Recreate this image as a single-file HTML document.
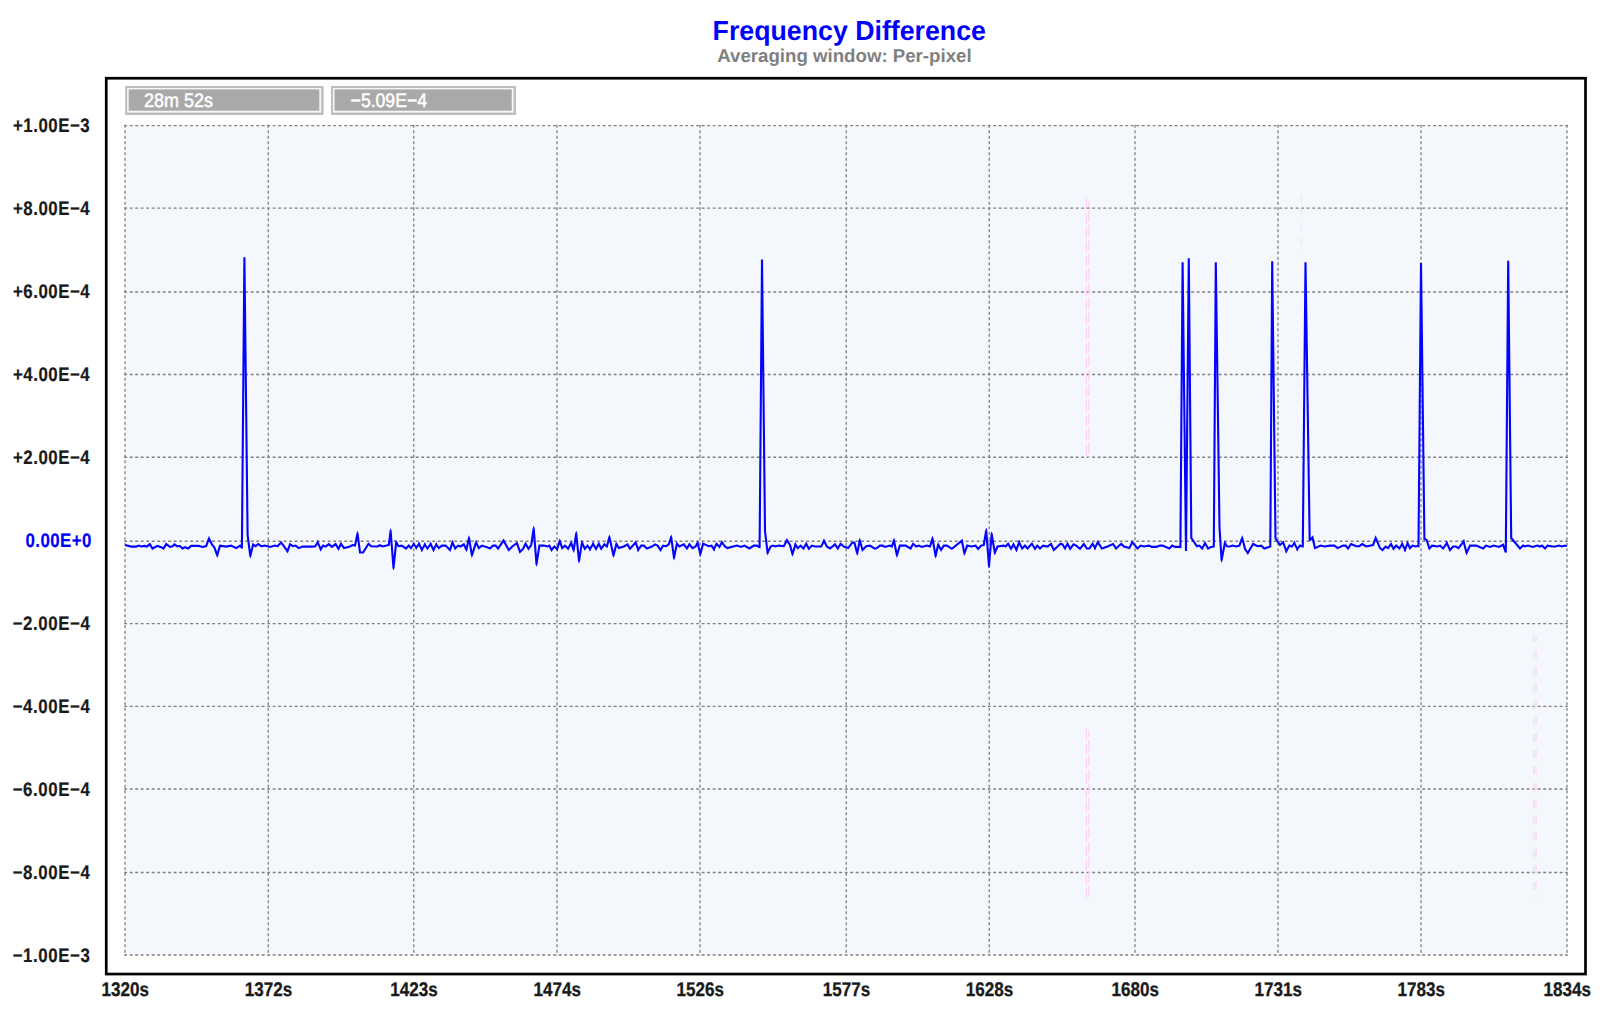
<!DOCTYPE html>
<html><head><meta charset="utf-8"><title>Frequency Difference</title>
<style>
html,body{margin:0;padding:0;background:#fff;}
body{width:1600px;height:1021px;overflow:hidden;}
svg{display:block;}
text{font-family:"Liberation Sans",sans-serif;text-rendering:geometricPrecision;}
.t{font-weight:bold;font-size:27.5px;fill:#0000fa;}
.st{font-weight:bold;font-size:18.5px;fill:#808080;}
.yl{font-size:19.7px;font-weight:bold;fill:#1a1a1a;stroke:#1a1a1a;stroke-width:0.2px;}
.xl{font-size:19.7px;font-weight:bold;fill:#1a1a1a;stroke:#1a1a1a;stroke-width:0.3px;}
.bx{font-size:19.5px;fill:#fff;stroke:#fff;stroke-width:0.5px;}
.g{stroke:#808080;stroke-width:1.3;stroke-dasharray:2.9 2.6;fill:none;}
</style></head><body>
<svg width="1600" height="1021" viewBox="0 0 1600 1021">
<rect x="0" y="0" width="1600" height="1021" fill="#fff"/>
<text class="t" transform="translate(712.6,40)" textLength="273.3" lengthAdjust="spacingAndGlyphs">Frequency Difference</text>
<text class="st" transform="translate(717.3,62)" textLength="254.3" lengthAdjust="spacingAndGlyphs">Averaging window: Per-pixel</text>
<rect x="106.25" y="78.25" width="1479.25" height="895.8" fill="#fff" stroke="#000" stroke-width="2.7"/>
<rect x="125" y="125.6" width="1442" height="829.4" fill="#f4f7fc"/>
<line class="g" x1="124.2" y1="125.60" x2="1567.8" y2="125.60"/>
<line class="g" x1="124.2" y1="208.10" x2="1567.8" y2="208.10"/>
<line class="g" x1="124.2" y1="292.00" x2="1567.8" y2="292.00"/>
<line class="g" x1="124.2" y1="374.50" x2="1567.8" y2="374.50"/>
<line class="g" x1="124.2" y1="457.25" x2="1567.8" y2="457.25"/>
<line class="g" x1="124.2" y1="541.25" x2="1567.8" y2="541.25"/>
<line class="g" x1="124.2" y1="623.70" x2="1567.8" y2="623.70"/>
<line class="g" x1="124.2" y1="706.30" x2="1567.8" y2="706.30"/>
<line class="g" x1="124.2" y1="789.00" x2="1567.8" y2="789.00"/>
<line class="g" x1="124.2" y1="872.50" x2="1567.8" y2="872.50"/>
<line class="g" x1="124.2" y1="955.00" x2="1567.8" y2="955.00"/>
<line class="g" x1="125.00" y1="124.8" x2="125.00" y2="955.8"/>
<line class="g" x1="268.25" y1="124.8" x2="268.25" y2="955.8"/>
<line class="g" x1="413.75" y1="124.8" x2="413.75" y2="955.8"/>
<line class="g" x1="557.00" y1="124.8" x2="557.00" y2="955.8"/>
<line class="g" x1="700.00" y1="124.8" x2="700.00" y2="955.8"/>
<line class="g" x1="846.25" y1="124.8" x2="846.25" y2="955.8"/>
<line class="g" x1="989.25" y1="124.8" x2="989.25" y2="955.8"/>
<line class="g" x1="1135.00" y1="124.8" x2="1135.00" y2="955.8"/>
<line class="g" x1="1278.00" y1="124.8" x2="1278.00" y2="955.8"/>
<line class="g" x1="1421.00" y1="124.8" x2="1421.00" y2="955.8"/>
<line class="g" x1="1567.00" y1="124.8" x2="1567.00" y2="955.8"/>
<rect x="125.20" y="86.0" width="198.40" height="29.0" rx="0.8" fill="#bcbcbc"/>
<rect x="127.10" y="88.0" width="194.10" height="24.6" fill="#f6f6f6"/>
<rect x="128.70" y="89.4" width="190.60" height="21.3" fill="#a9a9a9"/>
<text class="bx" x="144.00" y="106.8" textLength="69.00" lengthAdjust="spacingAndGlyphs">28m 52s</text>
<rect x="331.00" y="86.0" width="185.00" height="29.0" rx="0.8" fill="#bcbcbc"/>
<rect x="332.90" y="88.0" width="180.70" height="24.6" fill="#f6f6f6"/>
<rect x="334.50" y="89.4" width="177.20" height="21.3" fill="#a9a9a9"/>
<text class="bx" x="350.60" y="106.8" textLength="76.40" lengthAdjust="spacingAndGlyphs">−5.09E−4</text>
<text class="yl" transform="translate(12.90,132.00) rotate(0.03) scale(0.855,1)" textLength="89.82" lengthAdjust="spacing">+1.00E−3</text>
<text class="yl" transform="translate(12.90,215.00) rotate(0.03) scale(0.855,1)" textLength="89.82" lengthAdjust="spacing">+8.00E−4</text>
<text class="yl" transform="translate(12.90,298.00) rotate(0.03) scale(0.855,1)" textLength="89.82" lengthAdjust="spacing">+6.00E−4</text>
<text class="yl" transform="translate(12.90,381.00) rotate(0.03) scale(0.855,1)" textLength="89.82" lengthAdjust="spacing">+4.00E−4</text>
<text class="yl" transform="translate(12.90,464.00) rotate(0.03) scale(0.855,1)" textLength="89.82" lengthAdjust="spacing">+2.00E−4</text>
<text class="yl" transform="translate(25.40,547.00) rotate(0.03) scale(0.855,1)" textLength="77.19" lengthAdjust="spacing" style="fill:#0000fa;stroke:#0000fa">0.00E+0</text>
<text class="yl" transform="translate(12.70,630.00) rotate(0.03) scale(0.855,1)" textLength="90.29" lengthAdjust="spacing">−2.00E−4</text>
<text class="yl" transform="translate(12.70,713.00) rotate(0.03) scale(0.855,1)" textLength="90.29" lengthAdjust="spacing">−4.00E−4</text>
<text class="yl" transform="translate(12.70,796.00) rotate(0.03) scale(0.855,1)" textLength="90.29" lengthAdjust="spacing">−6.00E−4</text>
<text class="yl" transform="translate(12.70,879.00) rotate(0.03) scale(0.855,1)" textLength="90.29" lengthAdjust="spacing">−8.00E−4</text>
<text class="yl" transform="translate(12.70,962.00) rotate(0.03) scale(0.855,1)" textLength="90.29" lengthAdjust="spacing">−1.00E−3</text>
<text class="xl" x="101.55" y="995.5" textLength="47.50" lengthAdjust="spacingAndGlyphs">1320s</text>
<text class="xl" x="244.80" y="995.5" textLength="47.50" lengthAdjust="spacingAndGlyphs">1372s</text>
<text class="xl" x="390.30" y="995.5" textLength="47.50" lengthAdjust="spacingAndGlyphs">1423s</text>
<text class="xl" x="533.55" y="995.5" textLength="47.50" lengthAdjust="spacingAndGlyphs">1474s</text>
<text class="xl" x="676.55" y="995.5" textLength="47.50" lengthAdjust="spacingAndGlyphs">1526s</text>
<text class="xl" x="822.80" y="995.5" textLength="47.50" lengthAdjust="spacingAndGlyphs">1577s</text>
<text class="xl" x="965.80" y="995.5" textLength="47.50" lengthAdjust="spacingAndGlyphs">1628s</text>
<text class="xl" x="1111.55" y="995.5" textLength="47.50" lengthAdjust="spacingAndGlyphs">1680s</text>
<text class="xl" x="1254.55" y="995.5" textLength="47.50" lengthAdjust="spacingAndGlyphs">1731s</text>
<text class="xl" x="1397.55" y="995.5" textLength="47.50" lengthAdjust="spacingAndGlyphs">1783s</text>
<text class="xl" x="1543.55" y="995.5" textLength="47.50" lengthAdjust="spacingAndGlyphs">1834s</text>
<polyline fill="none" stroke="#0303ff" stroke-width="2.1" stroke-linejoin="miter" stroke-miterlimit="2.5" points="125.0,545.0 131.2,546.6 136.2,546.6 138.8,545.6 141.2,546.5 144.4,545.9 146.9,546.5 149.8,544.1 152.5,548.5 157.5,545.9 161.2,547.2 163.5,548.5 166.2,544.1 170.0,546.9 172.5,546.2 174.4,544.4 176.9,546.2 180.0,546.0 182.5,548.4 185.0,547.2 188.1,548.5 191.2,545.9 198.8,545.9 202.5,546.9 206.2,546.0 209.0,538.4 211.9,544.4 214.4,547.5 217.2,555.4 220.0,545.6 226.2,546.6 231.2,545.6 236.2,548.1 240.0,545.6 241.5,547.5 241.9,547.5 244.4,257.2 247.6,535.0 250.3,556.0 253.1,544.4 255.6,546.2 258.1,544.0 261.2,546.2 265.0,545.6 270.0,546.9 275.0,545.6 277.5,546.2 281.2,542.5 284.4,546.9 287.5,551.2 290.0,544.4 293.1,546.2 295.6,545.6 298.8,548.1 302.5,546.6 310.0,546.6 315.0,546.5 317.7,542.4 320.7,549.1 323.1,545.6 325.6,546.6 328.8,544.1 331.9,546.9 335.6,544.1 338.5,548.8 341.0,543.8 344.0,548.1 350.0,546.5 352.5,545.0 355.0,545.6 357.5,533.4 360.0,552.5 363.1,552.5 368.5,543.8 371.2,546.2 377.5,546.5 380.0,545.2 382.5,546.5 388.8,545.0 390.6,530.9 393.5,567.9 396.2,542.1 398.5,546.2 401.9,545.6 406.0,548.5 408.8,545.6 411.0,548.1 413.7,544.0 416.3,547.6 419.0,544.0 421.9,549.7 424.8,544.6 427.5,548.5 430.6,544.0 433.5,549.7 436.3,544.6 438.8,548.1 441.9,545.6 445.6,545.6 450.0,550.0 452.5,542.4 455.2,548.5 458.1,545.6 460.6,546.5 463.8,544.4 466.4,549.7 469.0,537.8 471.9,555.4 476.1,542.4 478.8,548.1 481.9,545.6 486.2,546.9 490.0,548.5 493.1,545.6 495.6,545.6 498.1,548.5 503.5,540.6 508.8,550.0 512.5,546.2 516.9,543.1 520.0,551.9 523.1,548.8 525.6,543.8 528.5,548.8 531.2,545.0 533.7,528.4 536.5,564.1 539.4,545.6 543.8,545.6 547.5,546.5 549.4,545.6 551.5,550.0 554.4,546.5 557.1,549.1 559.8,540.9 562.2,548.1 565.0,545.6 568.1,548.8 571.2,542.8 573.7,550.4 576.2,533.4 579.0,561.0 582.0,542.4 584.8,548.8 587.5,545.6 590.0,549.1 593.1,544.0 596.0,548.8 598.8,543.8 601.2,548.8 604.4,544.4 606.9,546.5 609.4,537.1 613.5,555.4 616.4,544.0 618.8,548.1 623.8,546.5 627.5,544.4 630.0,548.8 635.6,542.5 638.2,549.7 641.2,545.6 643.8,545.6 646.9,548.5 651.9,546.5 655.0,544.4 657.5,545.6 660.6,550.0 663.1,545.6 666.2,546.2 668.8,544.4 671.2,537.1 674.0,557.9 676.9,543.8 679.4,546.5 683.8,544.4 686.9,548.5 689.4,544.4 692.5,548.1 695.6,546.5 697.6,542.8 700.3,554.1 703.1,543.8 708.8,546.2 711.5,545.6 713.9,549.1 716.5,543.8 719.4,546.9 721.9,542.2 725.0,546.5 727.5,548.1 731.2,546.9 736.9,545.6 741.2,546.9 744.4,545.6 749.4,548.5 753.8,545.6 756.9,545.6 759.0,546.9 759.6,547.0 762.0,259.5 765.0,531.0 767.6,552.9 770.6,546.5 773.1,545.6 775.6,546.5 778.8,545.6 783.8,546.2 786.9,540.2 790.0,545.0 792.5,554.1 795.4,544.6 797.8,548.1 800.6,545.6 803.5,548.5 806.2,543.8 808.8,548.8 811.9,545.6 815.0,546.5 821.2,546.5 824.0,541.1 826.9,546.5 830.0,548.5 835.0,544.4 837.8,548.5 840.6,543.8 843.8,546.5 848.1,548.1 851.9,543.1 854.4,542.5 857.2,553.5 859.8,540.3 862.5,550.0 866.2,546.2 870.0,545.6 874.4,548.5 876.2,548.5 880.0,545.6 882.5,545.6 885.0,546.9 890.0,545.6 891.9,546.5 893.9,540.3 896.9,555.4 899.8,545.6 905.6,545.6 910.6,548.5 913.1,543.8 916.2,546.5 918.8,545.6 921.9,546.9 926.9,545.6 930.0,546.5 932.5,538.4 935.6,556.0 938.2,544.6 941.0,550.0 943.8,545.6 946.9,545.6 951.9,548.8 961.9,540.6 964.4,553.5 967.2,545.6 971.2,546.5 975.6,545.6 978.1,548.8 981.2,545.6 983.8,545.0 986.2,530.3 989.0,566.0 991.7,534.0 994.8,552.9 997.5,546.5 1003.8,545.6 1005.6,546.5 1008.1,543.8 1011.0,548.8 1013.5,544.6 1016.4,549.7 1019.1,542.4 1022.2,548.5 1025.0,545.6 1027.5,548.5 1031.9,543.8 1035.0,548.8 1037.2,545.6 1040.0,548.5 1043.1,545.6 1047.5,546.5 1051.0,543.8 1053.8,550.0 1060.6,543.8 1062.5,544.4 1065.0,548.5 1067.5,543.8 1070.2,548.8 1073.5,544.4 1076.2,545.6 1080.0,548.8 1083.8,544.0 1086.9,548.5 1089.4,548.5 1092.5,543.8 1095.0,547.9 1097.8,542.2 1101.9,548.5 1107.5,546.5 1113.1,544.0 1116.0,548.5 1121.2,544.0 1124.0,546.5 1129.4,548.1 1132.2,542.2 1137.5,548.5 1140.6,545.6 1143.8,546.5 1148.8,545.6 1151.9,546.9 1156.2,546.9 1160.0,545.6 1162.5,545.6 1169.4,548.5 1172.2,545.6 1175.0,546.9 1180.0,546.9 1180.4,547.0 1182.6,262.2 1186.0,551.0 1188.8,258.2 1191.3,538.0 1196.9,546.2 1199.4,545.6 1202.2,548.5 1205.0,543.1 1208.1,548.5 1211.2,546.9 1213.5,546.5 1213.8,546.5 1215.8,262.2 1219.5,527.5 1221.6,560.1 1224.9,542.8 1226.9,546.2 1230.0,546.5 1232.5,545.6 1236.2,546.5 1239.4,545.6 1242.2,537.8 1245.0,548.8 1247.8,553.1 1253.1,544.0 1257.5,546.2 1261.2,545.6 1264.4,548.5 1268.8,546.9 1270.3,546.5 1272.2,261.3 1275.5,538.5 1280.0,545.0 1283.1,542.2 1286.3,551.0 1289.4,545.6 1291.9,546.5 1294.3,543.1 1297.3,549.1 1300.0,545.6 1302.5,546.5 1302.8,546.5 1305.5,262.2 1309.7,540.5 1312.5,537.5 1315.0,548.1 1320.6,545.6 1324.4,546.5 1330.0,545.6 1334.4,545.6 1337.5,548.1 1343.1,545.6 1345.6,545.6 1348.1,548.5 1351.0,544.0 1356.2,546.2 1359.4,546.2 1362.2,544.0 1366.2,546.5 1373.1,545.0 1375.7,537.8 1380.0,548.1 1382.5,550.0 1385.6,546.5 1388.1,548.1 1391.0,544.0 1393.5,548.8 1396.2,545.6 1399.4,548.5 1402.2,544.0 1405.0,549.7 1407.6,543.1 1410.0,548.1 1412.5,545.6 1415.6,546.5 1418.1,545.8 1418.5,546.0 1421.0,262.9 1424.4,539.0 1426.6,540.0 1429.4,548.5 1432.2,545.6 1437.5,546.5 1440.0,545.6 1443.1,548.5 1446.8,543.1 1450.0,550.0 1453.1,546.5 1455.6,546.5 1458.5,548.1 1463.6,541.5 1466.6,552.9 1470.0,545.6 1476.2,545.6 1483.1,548.5 1486.0,545.6 1490.0,546.9 1493.8,545.6 1498.8,546.9 1503.1,544.8 1505.8,552.5 1508.2,260.7 1511.2,538.0 1520.0,548.5 1523.1,545.6 1525.0,546.5 1528.1,545.6 1532.5,546.9 1537.5,545.6 1540.0,546.5 1541.9,545.6 1545.0,548.5 1547.5,545.6 1552.5,546.5 1555.6,546.5 1558.8,545.6 1561.9,546.5 1565.0,545.6 1566.9,546.2"/>
<path fill="#0303ff" d="M210.09,538.36 L207.99,538.44 L208.93,535.80 Z M216.17,555.38 L218.27,555.32 L217.30,557.95 Z M249.30,555.95 L251.39,556.05 L250.22,558.60 Z M318.72,542.49 L316.62,542.30 L317.90,539.81 Z M319.67,549.00 L321.76,549.21 L320.46,551.69 Z M358.52,533.43 L356.42,533.37 L357.55,530.80 Z M391.65,530.93 L389.55,530.87 L390.67,528.30 Z M392.46,567.84 L394.56,567.86 L393.49,570.45 Z M397.20,541.94 L395.14,542.33 L395.68,539.58 Z M414.77,544.06 L412.67,543.99 L413.81,541.43 Z M415.22,547.58 L417.32,547.62 L416.22,550.20 Z M420.00,544.08 L417.90,543.97 L419.09,541.43 Z M420.84,549.71 L422.94,549.74 L421.85,552.32 Z M425.86,544.58 L423.76,544.72 L424.64,542.05 Z M431.60,544.11 L429.51,543.94 L430.76,541.43 Z M432.46,549.72 L434.56,549.73 L433.49,552.32 Z M437.36,544.58 L435.26,544.72 L436.13,542.05 Z M453.59,542.35 L451.49,542.45 L452.42,539.80 Z M465.35,549.85 L467.44,549.61 L466.70,552.31 Z M470.04,537.79 L467.94,537.76 L469.03,535.18 Z M470.88,555.29 L472.98,555.42 L471.77,557.95 Z M477.10,542.34 L475.01,542.46 L475.90,539.80 Z M534.77,528.44 L532.67,528.36 L533.81,525.80 Z M535.48,564.06 L537.58,564.14 L536.44,566.70 Z M556.03,549.35 L558.08,548.89 L557.62,551.66 Z M560.82,540.87 L558.72,540.93 L559.70,538.30 Z M572.22,542.86 L570.13,542.68 L571.39,540.18 Z M572.64,550.42 L574.74,550.28 L573.86,552.95 Z M577.28,533.42 L575.18,533.38 L576.28,530.80 Z M577.97,560.95 L580.07,561.00 L578.96,563.57 Z M583.02,542.27 L580.94,542.52 L581.67,539.81 Z M588.91,549.15 L591.01,549.05 L590.08,551.70 Z M594.20,544.00 L592.10,544.05 L593.09,541.43 Z M610.41,537.17 L608.31,537.13 L609.41,534.55 Z M612.45,555.35 L614.55,555.35 L613.50,557.95 Z M617.41,543.88 L615.32,544.15 L616.03,541.44 Z M637.20,549.60 L639.28,549.87 L637.90,552.31 Z M672.22,537.24 L670.12,537.05 L671.40,534.56 Z M672.98,557.81 L675.08,557.89 L673.94,560.45 Z M698.68,542.90 L696.60,542.64 L697.96,540.19 Z M699.23,554.07 L701.33,554.13 L700.20,556.70 Z M712.89,549.17 L714.99,549.03 L714.12,551.70 Z M766.59,552.70 L768.67,553.02 L767.25,555.43 Z M791.45,554.10 L793.55,554.10 L792.50,556.70 Z M796.42,544.50 L794.34,544.79 L795.01,542.07 Z M825.06,541.14 L822.96,541.16 L823.99,538.55 Z M856.17,553.51 L858.27,553.44 L857.31,556.07 Z M860.84,540.23 L858.74,540.32 L859.68,537.68 Z M894.99,540.34 L892.90,540.21 L894.10,537.68 Z M895.87,555.30 L897.97,555.40 L896.79,557.95 Z M933.50,538.46 L931.40,538.34 L932.59,535.80 Z M934.59,555.96 L936.69,555.99 L935.60,558.57 Z M939.28,544.52 L937.19,544.77 L937.92,542.06 Z M963.39,553.40 L965.48,553.55 L964.26,556.07 Z M987.26,530.32 L985.16,530.23 L986.32,527.68 Z M987.95,565.97 L990.05,565.98 L989.00,568.57 Z M992.71,533.99 L990.61,534.06 L991.56,531.43 Z M993.80,552.74 L995.89,552.97 L994.57,555.44 Z M1014.53,544.68 L1012.43,544.62 L1013.54,542.05 Z M1015.39,549.80 L1017.48,549.65 L1016.62,552.32 Z M1020.12,542.31 L1018.03,542.48 L1018.86,539.81 Z M1093.92,547.88 L1096.02,547.82 L1095.05,550.45 Z M1220.60,560.05 L1222.69,560.15 L1221.51,562.70 Z M1225.92,542.61 L1223.84,542.92 L1224.51,540.19 Z M1243.26,537.82 L1241.16,537.73 L1242.33,535.18 Z M1285.27,550.90 L1287.36,551.06 L1286.12,553.57 Z M1295.34,543.24 L1293.25,543.05 L1294.52,540.56 Z M1296.30,549.00 L1298.39,549.21 L1297.08,551.69 Z M1376.71,537.74 L1374.61,537.81 L1375.56,535.18 Z M1403.23,544.10 L1401.14,543.95 L1402.37,541.43 Z M1403.92,549.76 L1406.02,549.69 L1405.05,552.32 Z M1408.60,543.09 L1406.50,543.21 L1407.40,540.55 Z M1447.85,543.23 L1445.76,543.06 L1447.01,540.56 Z M1464.60,541.72 L1462.54,541.30 L1464.09,538.96 Z M1465.55,552.75 L1467.63,552.96 L1466.33,555.44 Z"/>
<g fill="none" stroke="#ffcdf5" stroke-width="1.1">
<line x1="1086.4" y1="198" x2="1086.4" y2="458" stroke-dasharray="11 3.5"/>
<line x1="1088.8" y1="201" x2="1088.8" y2="458" stroke-dasharray="11 3.5" stroke-dashoffset="5"/>
<line x1="1086.4" y1="729" x2="1086.4" y2="898" stroke-dasharray="11 3.5"/>
<line x1="1088.8" y1="731" x2="1088.8" y2="898" stroke-dasharray="11 3.5" stroke-dashoffset="5"/>
<line x1="1533.8" y1="635" x2="1533.8" y2="899" stroke-dasharray="8 8.5"/>
<line x1="1536" y1="637" x2="1536" y2="899" stroke-dasharray="8 8.5" stroke-dashoffset="3"/>
<line x1="1301.2" y1="195" x2="1301.2" y2="253" stroke-dasharray="8 6" stroke="#ffdcf8"/>
</g>
</svg>
</body></html>
